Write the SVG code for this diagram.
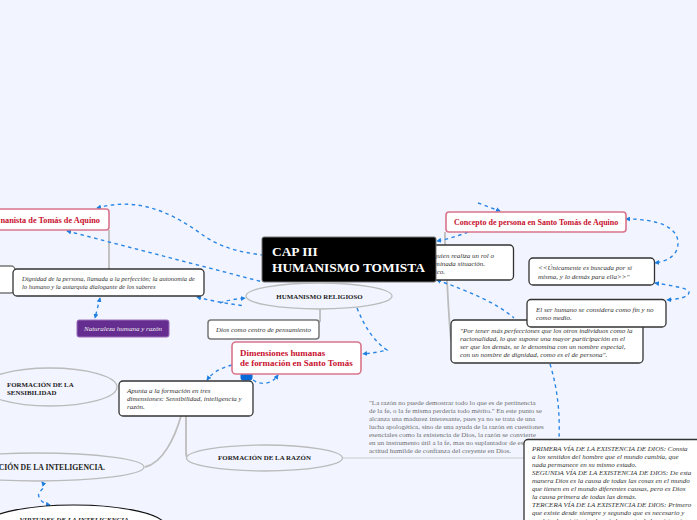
<svg xmlns="http://www.w3.org/2000/svg" width="697" height="520" viewBox="0 0 697 520">
<defs>
<marker id="a" viewBox="0 0 6 6" refX="5" refY="3" markerWidth="3.500" markerHeight="3.500" orient="auto-start-reverse"><path d="M0 0L6 3L0 6Z" fill="#1f7fe0"/></marker>
</defs>
<style>
text{font-family:"Liberation Serif",serif}
.g{fill:none;stroke:#bdbdbd;stroke-width:1.8}
.d{fill:none;stroke:#2a86e6;stroke-width:1.4;stroke-dasharray:3.500 3.500}
.s{marker-start:url(#a)}
.t{marker-end:url(#a)}
.b{fill:#fff;stroke:#333;stroke-width:1.3}
.bg{fill:#fff;stroke:#777;stroke-width:1.5}
.r{fill:#fff;stroke:#d9748a;stroke-width:1.6}
.rt{font-weight:bold;fill:#c8102e;font-size:8px}
.i{font-style:italic;font-size:7px;fill:#333}
.e{fill:#f2f5ff;stroke:#bbb;stroke-width:1.3}
.h{font-weight:bold;font-size:6.900px;fill:#222}
</style>
<rect width="697" height="520" fill="#f2f5ff"/>
<g id="connectors">
<path class="g" d="M109 230V270"/>
<path class="g" d="M320 309V322"/>
<path class="g" d="M445 232V245M447 280C448 300 449 320 451 341"/>
<path class="g" d="M181 416C175 437 163 463 145 467"/>
<path class="g" d="M186 416V450C186 455 186 457 188 458"/>
<path d="M342 458H524" fill="none" stroke="#ccc" stroke-width="1"/>
<path class="d s" d="M97 208C133 198 165 208 200 233C220 248 240 252 262 255"/>
<path class="d s" d="M67 231L263 282"/>
<path class="d s" d="M197 297C215 302 232 304 245 306"/>
<path class="d t" d="M220 303C228 300 236 299 245 298"/>
<path class="d s t" d="M100 298L95 318"/>
<path class="d t" d="M357 308C365 328 375 342 387 350C380 352 372 353 363 354"/>
<path class="d t" d="M232 365C220 368 212 373 207 380"/>
<path class="d t" d="M253 380C262 386 272 384 278 375"/>
<path class="d t" d="M478 203L500 211"/>
<path class="d t" d="M468 232C458 236 448 239 437 241"/>
<path class="d s t" d="M626 219C660 219 678 228 678 243C678 255 668 261 655 263"/>
<path class="d s t" d="M655 283C668 285 689 288 689 292C689 297 680 299 667 300"/>
<path class="d s" d="M437 280C470 292 495 302 514 318"/>
<path class="d" d="M550 364C558 390 560 415 559 438"/>
<path class="d s t" d="M42 482C48 490 36 490 39 497C40 501 45 504 50 505"/>
</g>
<g id="n-humanista"><rect class="r" x="-20" y="209" width="129" height="21" rx="3"/><text class="rt" style="font-size:8.300px" x="100" y="222.500" text-anchor="end">nanista de Tomás de Aquino</text></g>
<g id="n-left"><rect class="bg" x="-20" y="266" width="35" height="27" rx="4"/></g>
<g id="n-dignidad"><rect class="b" x="13" y="269" width="191" height="27" rx="4"/><text class="i" style="font-size:6.500px" x="22" y="281">Dignidad de la persona, llamada a la perfección; la autonomía de</text><text class="i" style="font-size:6.500px" x="22" y="289">lo humano y la autarquía dialogante de los saberes</text></g>
<g id="n-naturaleza"><rect x="77" y="320" width="92" height="17" rx="2" fill="#652d90" stroke="#9b6fb8"/><text x="123" y="331" text-anchor="middle" font-style="italic" font-size="7" fill="#eee">Naturaleza humana y razón</text></g>
<g id="n-quien"><rect class="b" x="400" y="245" width="113.500" height="35" rx="4"/><text class="i" x="494" y="258" text-anchor="end">quien realiza un rol o</text><text class="i" x="485" y="266" text-anchor="end">rminada situación.</text><text class="i" x="445" y="274" text-anchor="end">ico.</text></g>
<g id="n-cap"><rect x="262" y="237" width="174" height="45" rx="2" fill="#000" stroke="#777"/><text x="272" y="256" font-weight="bold" font-size="13.400" fill="#fff">CAP III</text><text x="272" y="272" font-weight="bold" font-size="13.400" fill="#fff">HUMANISMO TOMISTA</text></g>
<g id="n-religioso"><ellipse class="e" cx="319" cy="296" rx="73" ry="13"/><text class="h" x="319.500" y="298.500" text-anchor="middle">HUMANISMO RELIGIOSO</text></g>
<g id="n-dios"><rect class="bg" x="208" y="320" width="111" height="19" rx="3"/><text class="i" x="216" y="332">Dios como centro de pensamiento</text></g>
<g id="n-blue"><rect x="240.500" y="370" width="12" height="10.500" rx="3" fill="#0a6ad8"/></g>
<g id="n-dimensiones"><rect class="r" x="232" y="342" width="129" height="32" rx="4"/><text class="rt" style="font-size:8.950px" x="240" y="356">Dimensiones humanas</text><text class="rt" style="font-size:8.950px" x="240" y="366">de formación en Santo Tomás</text></g>
<g id="n-concepto"><rect class="r" x="446" y="212" width="180" height="20" rx="3"/><text class="rt" x="454" y="225">Concepto de persona en Santo Tomás de Aquino</text></g>
<g id="n-unicamente"><rect class="b" x="529" y="258" width="125.500" height="27" rx="4"/><text class="i" x="538" y="270">&lt;&lt;Únicamente es buscada por sí</text><text class="i" x="538" y="278.500">misma, y lo demás para ella&gt;&gt;"</text></g>
<g id="n-por"><rect class="b" x="451" y="320" width="192" height="43" rx="4"/><text class="i" x="460" y="332.500">"Por tener más perfecciones que los otros individuos como la</text><text class="i" x="460" y="340.500">racionalidad, lo que supone una mayor participación en el</text><text class="i" x="460" y="348.500">ser que los demás, se le denomina con un nombre especial,</text><text class="i" x="460" y="356.500">con un nombre de dignidad, como es el de persona".</text></g>
<g id="n-ser"><rect class="b" x="527" y="299.500" width="139" height="27.500" rx="4"/><text class="i" x="536" y="311.500">El ser humano se considera como fin y no</text><text class="i" x="536" y="319.500">como medio.</text></g>
<g id="n-sensibilidad"><ellipse class="e" cx="50" cy="387" rx="67" ry="19"/><text class="h" x="7" y="387">FORMACIÓN DE LA</text><text class="h" x="7" y="395">SENSIBILIDAD</text></g>
<g id="n-apunta"><rect class="b" x="119" y="381" width="134" height="35" rx="4"/><text class="i" x="127" y="393">Apunta a la formación en tres</text><text class="i" x="127" y="401">dimensiones: Sensibilidad, inteligencia y</text><text class="i" x="127" y="409">razón.</text></g>
<g id="n-inteligencia"><ellipse class="e" cx="37" cy="467" rx="107" ry="14"/><text x="105" y="470" text-anchor="end" font-weight="bold" font-size="7.700" fill="#222">FORMACIÓN DE LA INTELIGENCIA.</text></g>
<g id="n-virtudes"><ellipse cx="74" cy="527" rx="92" ry="22" fill="#fff" stroke="#111" stroke-width="1.200"/><text x="74" y="521.500" text-anchor="middle" font-weight="bold" font-style="italic" font-size="7" fill="#222">VIRTUDES DE LA INTELIGENCIA</text></g>
<g id="n-razon"><ellipse class="e" cx="264.500" cy="458" rx="78" ry="13"/><text class="h" x="264.500" y="459.500" text-anchor="middle">FORMACIÓN DE LA RAZÓN</text></g>
<g id="n-cita" font-size="7" fill="#6e6e6e">
<text x="369" y="405">"La razón no puede demostrar todo lo que es de pertinencia</text>
<text x="369" y="413">de la fe, o la fe misma perdería todo mérito." En este punto se</text>
<text x="369" y="421">alcanza una madurez interesante, pues ya no se trata de una</text>
<text x="369" y="429">lucha apologética, sino de una ayuda de la razón en cuestiones</text>
<text x="369" y="437">esenciales como la existencia de Dios, la razón se convierte</text>
<text x="369" y="445">en un instrumento útil a la fe, mas no suplantador de esta,</text>
<text x="369" y="453">actitud humilde de confianza del creyente en Dios.</text>
</g>
<g id="n-vias"><rect class="b" x="524" y="439.500" width="190" height="100" rx="4"/>
<text class="i" x="532" y="450.500">PRIMERA VÍA DE LA EXISTENCIA DE DIOS: Consta</text>
<text class="i" x="532" y="458.500">a los sentidos del hombre que el mundo cambia, que</text>
<text class="i" x="532" y="466.500">nada permanece en su mismo estado.</text>
<text class="i" x="532" y="474.500">SEGUNDA VÍA DE LA EXISTENCIA DE DIOS: De esta</text>
<text class="i" x="532" y="482.500">manera Dios es la causa de todas las cosas en el mundo</text>
<text class="i" x="532" y="490.500">que tienen en el mundo diferentes causas, pero es Dios</text>
<text class="i" x="532" y="498.500">la causa primera de todas las demás.</text>
<text class="i" x="532" y="506.500">TERCERA VÍA DE LA EXISTENCIA DE DIOS: Primero</text>
<text class="i" x="532" y="514.500">que existe desde siempre y segundo que es necesario y</text>
<text class="i" x="532" y="522.500">no deja de existir siendo así el soporte de la existencia</text>
</g>
</svg>
